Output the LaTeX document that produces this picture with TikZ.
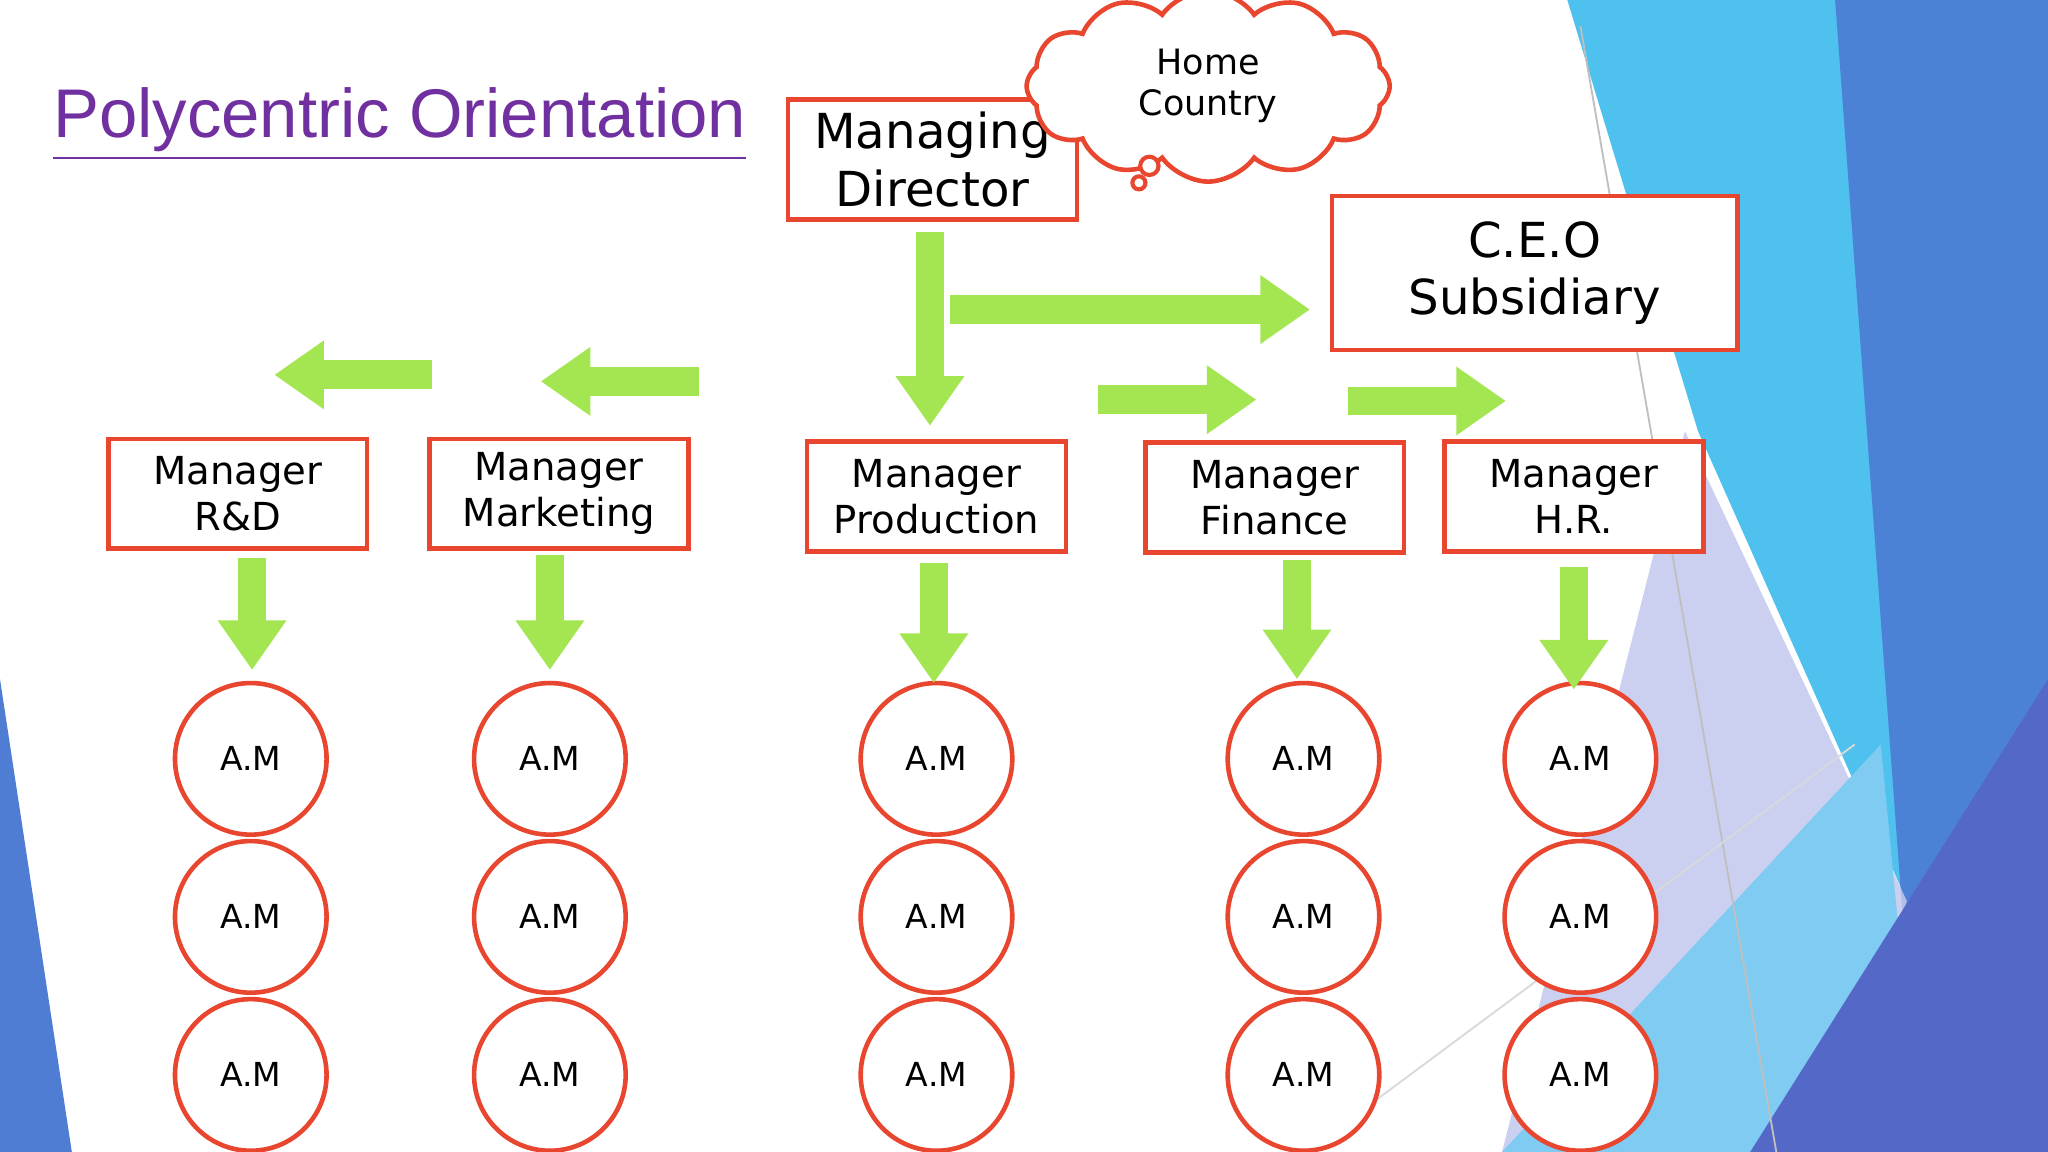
\documentclass[tikz,border=0pt]{standalone}
\usepackage{fontspec}
\setmainfont{DejaVu Sans}
\newfontfamily\titlefont{Liberation Sans}
\usetikzlibrary{shapes.symbols,arrows.meta}
\definecolor{boxred}{HTML}{E8462F}
\definecolor{agreen}{HTML}{A4E652}
\definecolor{ttl}{HTML}{7030A0}
\definecolor{cyanbg}{HTML}{4FC1EE}
\definecolor{bluebg}{HTML}{4C82D6}
\definecolor{darkbg}{HTML}{5468C8}
\definecolor{lavbg}{HTML}{C4C8EE}
\definecolor{skybg}{HTML}{7FCBF2}
\tikzset{
 mgr/.style={draw=boxred,line width=1pt,fill=white,minimum width=1.98cm,minimum height=0.84cm,align=center,font=\fontsize{8.4}{10}\selectfont,inner sep=1pt},
 am/.style={draw=boxred,line width=1pt,fill=white,circle,minimum size=1.16cm,font=\fontsize{7.2}{8}\selectfont},
 garrow/.style={agreen,line width=0.22cm,-{Triangle[width=0.5cm,length=0.38cm]}}
}
\begin{document}
\begin{tikzpicture}[x=0.01cm,y=-0.01cm]
\useasboundingbox (0,0) rectangle (1568,882);
\fill[white] (0,0) rectangle (1568,882);
% background
\fill[cyanbg] (1200,0)--(1420,0)--(1460,690)--(1300,330)--cycle;
\fill[bluebg] (1405,0)--(1568,0)--(1568,882)--(1470,882)--cycle;
\fill[lavbg,opacity=0.85] (1290,330)--(1460,690)--(1390,882)--(1150,882)--cycle;
\fill[skybg] (1150,882)--(1440,570)--(1470,882)--cycle;
\fill[darkbg] (1568,520)--(1568,882)--(1340,882)--cycle;
\fill[bluebg!80!darkbg] (0,520)--(55,882)--(0,882)--cycle;
\draw[gray!50,thin] (1210,20)--(1360,882);
\draw[gray!30,thin] (1000,882)--(1420,570);
% title
\node[anchor=west,text=ttl,font=\titlefont\fontsize{15}{17}\selectfont,inner sep=0pt] (title) at (40,95) {\underline{Polycentric Orientation}};
% top
\node[mgr,minimum width=2.21cm,minimum height=0.92cm,font=\fontsize{10.5}{12.5}\selectfont] (md) at (714,122) {Managing\\Director};
\node[cloud,draw=boxred,line width=1pt,fill=white,cloud puffs=12,cloud puff arc=110,aspect=2.4,minimum width=2.4cm,minimum height=0.95cm,align=center,font=\fontsize{7.6}{9}\selectfont] (home) at (925,66) {Home\\Country};
\draw[boxred,line width=0.9pt,fill=white] (880,127) circle (7);
\draw[boxred,line width=0.9pt,fill=white] (872,140) circle (5);
\node[mgr,minimum width=3.1cm,minimum height=1.18cm,font=\fontsize{10.5}{12.5}\selectfont] (ceo) at (1175,209) {C.E.O\\Subsidiary};
% managers
\node[mgr] (rd) at (182,378) {Manager\\R\&D};
\node[mgr] (mk) at (428,378) {Manager\\Marketing};
\node[mgr] (pr) at (717,380) {Manager\\Production};
\node[mgr] (fi) at (976,381) {Manager\\Finance};
\node[mgr] (hr) at (1205,380) {Manager\\H.R.};
% circles
\foreach \n/\x in {a/192,b/421,c/717,d/998,e/1210}{
 \node[am] (\n1) at (\x,581) {A.M};
 \node[am] (\n2) at (\x,702) {A.M};
 \node[am] (\n3) at (\x,823) {A.M};
}
% arrows
\coordinate (p1) at (712,178); \coordinate (p2) at (712,326);
\draw[garrow] (p1)--(p2);
\coordinate (h1) at (727,237); \coordinate (h2) at (1003,237);
\draw[garrow] (h1)--(h2);
\coordinate (l1) at (331,287); \coordinate (l2) at (210,287);
\draw[garrow] (l1)--(l2);
\coordinate (m1) at (535,292); \coordinate (m2) at (414,292);
\draw[garrow] (m1)--(m2);
\coordinate (r1) at (841,306); \coordinate (r2) at (962,306);
\draw[garrow] (r1)--(r2);
\coordinate (s1) at (1032,307); \coordinate (s2) at (1153,307);
\draw[garrow] (s1)--(s2);
\coordinate (d1) at (193,427); \coordinate (d2) at (193,513);
\draw[garrow] (d1)--(d2);
\coordinate (e1) at (421,425); \coordinate (e2) at (421,513);
\draw[garrow] (e1)--(e2);
\coordinate (f1) at (715,431); \coordinate (f2) at (715,523);
\draw[garrow] (f1)--(f2);
\coordinate (g1) at (993,429); \coordinate (g2) at (993,520);
\draw[garrow] (g1)--(g2);
\coordinate (k1) at (1205,434); \coordinate (k2) at (1205,528);
\draw[garrow] (k1)--(k2);
\end{tikzpicture}
\end{document}
